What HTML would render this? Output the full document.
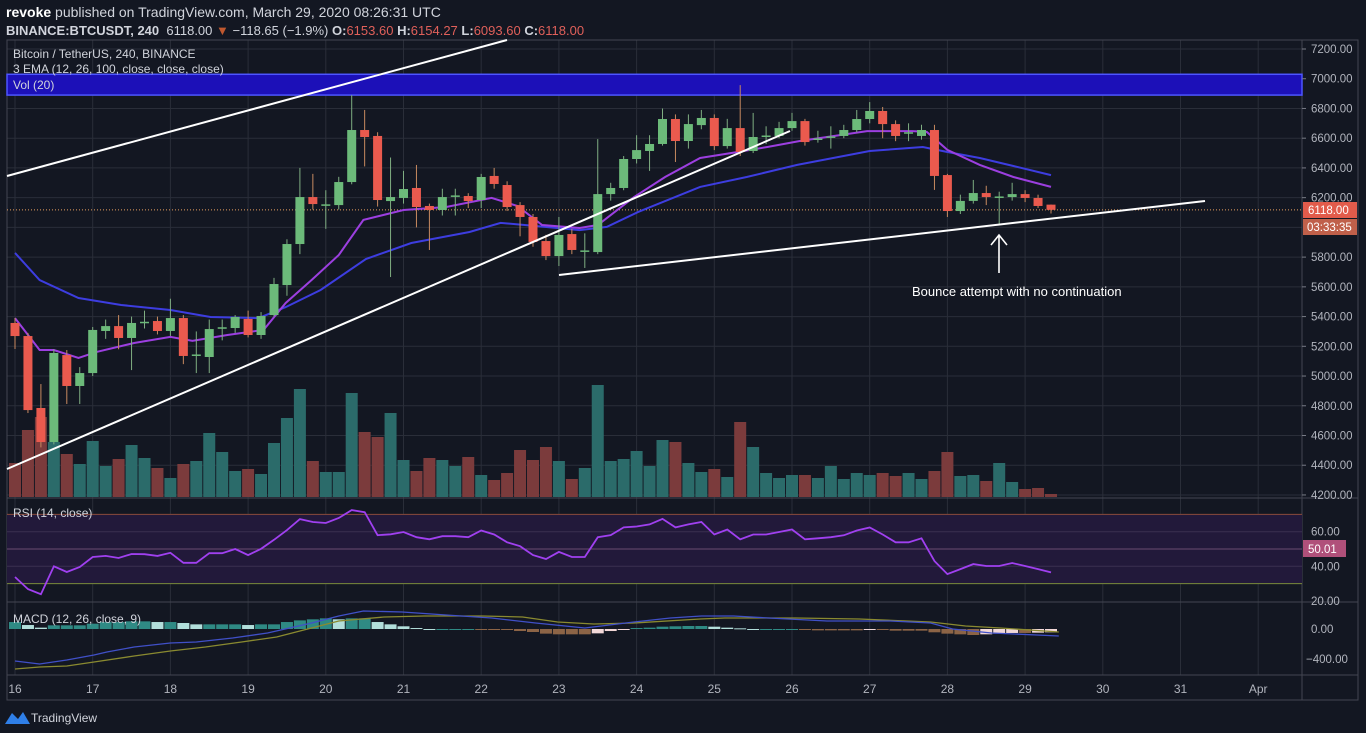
<!DOCTYPE html>
<html><head><meta charset="utf-8"><style>
html,body{margin:0;padding:0;background:#131722;width:1366px;height:733px;overflow:hidden;font-family:"Liberation Sans","DejaVu Sans",sans-serif}
#hdr1{position:absolute;left:6px;top:4px;font-size:14px;color:#d1d4dc}
#hdr2{position:absolute;left:6px;top:23px;font-size:13px;color:#d1d4dc}
svg{position:absolute;left:0;top:0}
</style></head><body>
<div id="hdr1"><b style="color:#fff">revoke</b> published on TradingView.com, March 29, 2020 08:26:31 UTC</div>
<div id="hdr2"><b>BINANCE:BTCUSDT, 240</b>&nbsp; 6118.00 <span style="color:#c0582f">▼</span> −118.65 (−1.9%) <b>O:</b><span style="color:#e0605a">6153.60</span> <b>H:</b><span style="color:#e0605a">6154.27</span> <b>L:</b><span style="color:#e0605a">6093.60</span> <b>C:</b><span style="color:#e0605a">6118.00</span></div>
<svg id="chart" width="1366" height="733"></svg>
<script>
const OPEN=[5357,5269,4785,4556,5141,4933,5020,5303,5336,5256,5360,5370,5303,5390,5141,5128,5323,5323,5384,5276,5410,5612,5888,6204,6150,6150,6305,6655,6615,6177,6198,6265,6144,6117,6211,6211,6184,6346,6285,6150,6070,5908,5807,5955,5841,5834,6224,6265,6460,6514,6561,6729,6581,6688,6736,6547,6668,6514,6615,6615,6668,6715,6594,6608,6615,6655,6729,6783,6695,6635,6615,6655,6352,6110,6178,6231,6204,6204,6224,6198,6153];
const CLOSE=[5269,4771,4556,5155,4933,5020,5310,5336,5256,5357,5365,5303,5390,5135,5145,5316,5328,5397,5276,5404,5619,5888,6204,6157,6155,6305,6655,6608,6184,6204,6258,6137,6117,6204,6215,6177,6339,6292,6137,6070,5902,5807,5949,5848,5845,6224,6265,6460,6520,6561,6729,6581,6695,6736,6547,6668,6507,6608,6618,6668,6715,6574,6598,6612,6655,6729,6783,6695,6615,6640,6655,6346,6110,6178,6231,6204,6208,6224,6198,6144,6118];
const HIGH=[5390,5290,4946,5180,5175,5060,5330,5380,5410,5400,5440,5400,5520,5410,5300,5380,5380,5410,5440,5430,5660,5920,6400,6360,6250,6340,6890,6790,6640,6470,6380,6420,6160,6260,6260,6230,6360,6400,6310,6170,6090,5950,6070,5990,5960,6594,6300,6480,6620,6620,6800,6760,6760,6790,6760,6730,6957,6770,6680,6710,6770,6730,6650,6680,6690,6790,6843,6810,6720,6700,6690,6690,6360,6220,6319,6280,6240,6300,6250,6220,6154];
const LOW=[5182,4751,4520,4540,4812,4812,5000,5250,5180,5040,5320,5280,5270,5080,5020,5020,5240,5290,5260,5250,5400,5540,5820,6120,5990,6120,6290,6410,6140,5666,6160,6000,5848,6080,6080,6130,6130,6260,6110,5940,5870,5780,5740,5820,5727,5820,6180,6250,6430,6380,6550,6440,6530,6660,6520,6530,6480,6500,6560,6600,6650,6550,6570,6530,6600,6640,6700,6600,6580,6580,6590,6252,6070,6090,6160,6150,6016,6180,6170,6130,6093];
const VOLUME=[34,67,80,55,43,33,56,31,38,52,39,29,19,33,36,64,45,26,28,23,54,79,108,36,25,25,104,65,60,84,37,26,39,37,31,40,22,17,24,47,37,50,36,18,29,112,36,38,46,31,57,55,34,25,28,20,75,50,24,19,22,22,19,31,18,24,22,24,21,24,18,26,45,21,22,16,34,15,8,9,3];
const EMA12_I=[0,1.9,3,4.9,6.3,9.2,12,13.7,16.4,19.2,20.9,22.9,25,26.9,30,33.3,36.8,38.8,40.7,43.6,45,47.8,50.2,52.9,55.8,58.1,60.6,65.8,69.3,70.4,72,74.5,77.1,80];
const EMA12_V=[5390,5175,5175,5121,5162,5222,5263,5236,5276,5310,5491,5646,5814,6050,6117,6137,6198,6144,6016,5996,6016,6204,6339,6467,6507,6541,6581,6648,6648,6642,6521,6420,6339,6272];
const EMA26_I=[0,1.9,4.9,8.2,12,15.1,18.8,20.9,23.6,27.1,30.6,35.1,37.5,40.2,43.6,45.7,48.1,52.9,56.5,60.4,66,70.1,72,74.5,77.1,80];
const EMA26_V=[5828,5646,5525,5478,5444,5397,5390,5464,5579,5787,5895,5969,6030,6009,5982,6003,6103,6272,6339,6420,6514,6541,6507,6467,6413,6352];
const RSI=[33.8,26.8,23.9,40,36.7,39.6,45.4,46,44.8,47.1,47,46,47.8,42,42,47.6,47.6,50,46.5,50.1,55.3,60.9,67.3,65.6,65,67.9,72.5,71.3,58,58.5,59.8,56.8,55.6,57.4,57.4,56.8,60.7,58.4,53.9,51.6,46.5,44.2,48.3,45.4,45.4,56.8,58,62.5,63,64.2,67.4,62.5,64.2,65.6,58.4,61.3,55.6,58.4,58.4,59.8,61.3,55.6,56.2,56.8,57.9,60.7,62.4,58.4,53.9,53.9,56.2,43,35.5,38.4,41.3,40.2,40.2,41.9,40.2,38.4,36.5];
const MACD_I=[0,1.9,4,6.1,7.1,9.2,12,14,16.8,19.5,22.9,25,26.9,29.9,33.3,36.8,40.2,44,47.8,50.6,53,55.5,58.2,62.7,67.6,70.7,72.4,75.4,78.9,80.6];
const MACD_V=[-427,-467,-413,-347,-307,-240,-187,-173,-120,-53,80,173,240,227,187,147,80,13,93,147,173,173,147,107,107,80,0,-53,-80,-93];
const SIG_I=[0,1.9,4,6.1,9.2,12,14.7,17.5,20.2,22.9,25,28.5,31.6,36.1,39.2,41.9,44.7,47.8,52.9,54.8,60.3,65.2,70.7,73.4,76.1,80.6];
const SIG_V=[-533,-507,-493,-440,-360,-293,-240,-173,-107,13,107,160,173,173,160,93,67,80,133,147,147,133,93,40,13,-40];
const HIST=[93,53,18,49,49,49,71,93,93,102,102,93,93,80,62,62,62,62,53,62,62,93,115,129,142,129,142,142,93,62,36,13,0,0,0,0,-9,-9,-9,-27,-40,-62,-71,-71,-71,-58,-27,-4,13,18,31,36,40,40,31,18,9,0,0,0,0,-9,-18,-18,-18,-18,-9,-13,-22,-22,-22,-44,-62,-71,-80,-71,-62,-53,-53,-49,-44];
const PRICE_TICKS=[7200,7000,6800,6600,6400,6200,5800,5600,5400,5200,5000,4800,4600,4400,4200];
const DAY_LABELS=['16','17','18','19','20','21','22','23','24','25','26','27','28','29','30','31','Apr'];
const RSI_TICKS=[60,40,20];
const MACD_TICKS=[0,-400];

const X0=15, DAYW=77.7, CW=DAYW/6;
const xi=i=>X0+i*CW;
const xd=d=>X0+d*DAYW;
const yp=p=>49+(7200-p)/200*29.73;
const yr=v=>549-(v-50)*1.73;
const ym=v=>629-v*0.075;
const yv=v=>497-v;
const NS='http://www.w3.org/2000/svg';
const svg=document.getElementById('chart');
function mk(tag,at,parent){const e=document.createElementNS(NS,tag);for(const k in at)e.setAttribute(k,at[k]);(parent||svg).appendChild(e);return e;}
const L=7,R=1302;
// grid
const grid=mk('g',{});


PRICE_TICKS.forEach(p=>mk('line',{x1:L,x2:R,y1:yp(p),y2:yp(p),stroke:'#2a2e39'},grid));
[6000].forEach(p=>mk('line',{x1:L,x2:R,y1:yp(p),y2:yp(p),stroke:'#2a2e39'},grid));
DAY_LABELS.forEach((d,k)=>mk('line',{x1:xd(k),x2:xd(k),y1:40,y2:675,stroke:'#2a2e39'},grid));
// panel frame
mk('rect',{x:L,y:40,width:1351,height:660,fill:'none',stroke:'#434651'});
mk('line',{x1:R,x2:R,y1:40,y2:700,stroke:'#434651'});
mk('line',{x1:L,x2:1358,y1:498,y2:498,stroke:'#434651'});
mk('line',{x1:L,x2:1358,y1:602,y2:602,stroke:'#434651'});
mk('line',{x1:L,x2:1358,y1:675,y2:675,stroke:'#434651'});
// blue zone
const zone=mk('rect',{x:L,y:yp(7030),width:R-L,height:yp(6890)-yp(7030),fill:'#1c10b8',stroke:'#4d55ff','stroke-width':1.5});


// volume
VOLUME.forEach((v,i)=>{const up=CLOSE[i]>=OPEN[i];const r=mk('rect',{x:xi(i)-6,y:yv(v),width:12,height:v,fill:up?'#2b6b6a':'#7b3b3c'});

});
// price line
mk('line',{x1:L,x2:R,y1:yp(6118),y2:yp(6118),stroke:'#e8a060','stroke-dasharray':'1 2'});
// ema lines
function pl(I,V,fx,fy,col,name,w){const pts=I.map((k,j)=>fx(k).toFixed(1)+','+fy(V[j]).toFixed(1)).join(' ');const e=mk('polyline',{points:pts,fill:'none',stroke:col,'stroke-width':w||2});

return e;}
pl(EMA26_I,EMA26_V,xi,yp,'#3d3de0','ema-26-line');
pl(EMA12_I,EMA12_V,xi,yp,'#9c3fe0','ema-12-line');
// candles
OPEN.forEach((o,i)=>{const c=CLOSE[i];const up=c>=o;const col=up?'#6cba7a':'#ea5a4e';const g=mk('g',{});


mk('line',{x1:xi(i),x2:xi(i),y1:yp(HIGH[i]),y2:yp(LOW[i]),stroke:up?'#7fae82':'#c88a60','stroke-width':1},g);
const t=yp(Math.max(o,c)),b=yp(Math.min(o,c));mk('rect',{x:xi(i)-4.5,y:t,width:9,height:Math.max(1.5,b-t),fill:col},g);});
// trend lines
[[7,176,507,40,'upper-channel-line'],[7,469,790,131,'lower-channel-line'],[559,275,1205,201,'support-trendline']].forEach(a=>{const l=mk('line',{x1:a[0],y1:a[1],x2:a[2],y2:a[3],stroke:'#fff','stroke-width':2});

});
const arr=mk('path',{d:'M999 273 L999 236 M991 245 L999 235 L1007 245',stroke:'#fff','stroke-width':1.6,fill:'none'});


const note=mk('text',{x:912,y:296,fill:'#fff','font-size':13});note.textContent='Bounce attempt with no continuation';


// legend texts
[['Bitcoin / TetherUS, 240, BINANCE',58,'chart-title'],['3 EMA (12, 26, 100, close, close, close)',73,'ema-legend'],['Vol (20)',89,'volume-legend']].forEach(a=>{const t=mk('text',{x:13,y:a[1],fill:'#d1d4dc','font-size':12});t.textContent=a[0];

});
// price axis
PRICE_TICKS.forEach(p=>{mk('line',{x1:R,x2:R+4,y1:yp(p),y2:yp(p),stroke:'#787b86'});const t=mk('text',{x:1311,y:yp(p)+4,fill:'#b2b5be','font-size':11.5});t.textContent=p.toFixed(2);

});
mk('rect',{x:1303,y:202,width:54,height:16,fill:'#e25b4b'});
const lp=mk('text',{x:1308,y:214,fill:'#fff','font-size':11.5});lp.textContent='6118.00';


mk('rect',{x:1303,y:219,width:54,height:16,fill:'#c0604a'});
const cd=mk('text',{x:1307,y:231,fill:'#fff','font-size':11.5});cd.textContent='03:33:35';


// RSI
mk('rect',{x:L,y:yr(70),width:R-L,height:yr(30)-yr(70),fill:'#22193a'});
mk('line',{x1:L,x2:R,y1:yr(70),y2:yr(70),stroke:'#8a4a3a'});
mk('line',{x1:L,x2:R,y1:yr(30),y2:yr(30),stroke:'#7a8a3a'});
mk('line',{x1:L,x2:R,y1:yr(50),y2:yr(50),stroke:'#6a4a70'});
[60,40].forEach(v=>mk('line',{x1:L,x2:R,y1:yr(v),y2:yr(v),stroke:'#3a3050'}));
pl(RSI.map((v,i)=>i),RSI,xi,yr,'#a040f0','rsi-line',1.8);
const rl=mk('text',{x:13,y:517,fill:'#d1d4dc','font-size':12});rl.textContent='RSI (14, close)';


RSI_TICKS.forEach(v=>{const t=mk('text',{x:1311,y:yr(v)+4,fill:'#b2b5be','font-size':11.5});t.textContent=v.toFixed(2);

});
mk('rect',{x:1303,y:540,width:43,height:17,fill:'#b0507a'});
const rv=mk('text',{x:1308,y:553,fill:'#fff','font-size':11.5});rv.textContent='50.01';


// MACD
HIST.forEach((v,i)=>{const prev=i?HIST[i-1]:v;let col;if(v>=0)col=v>=prev?'#2f8a84':'#b2dfdb';else col=v<=prev?'#8c6446':'#f2d8d8';
const y1=ym(Math.max(v,0)),y2=ym(Math.min(v,0));const r=mk('rect',{x:xi(i)-6,y:y1,width:12,height:Math.max(1,y2-y1),fill:col});

});
pl(SIG_I,SIG_V,xi,ym,'#8a8a30','macd-signal-line',1.3);
pl(MACD_I,MACD_V,xi,ym,'#4050c8','macd-line',1.3);
const ml=mk('text',{x:13,y:623,fill:'#d1d4dc','font-size':12});ml.textContent='MACD (12, 26, close, 9)';


MACD_TICKS.forEach(v=>{const t=mk('text',{x:v<0?1306:1311,y:ym(v)+4,fill:'#b2b5be','font-size':11.5});t.textContent=(v<0?'−'+Math.abs(v):v).toString()+'.00';

});
// x axis
DAY_LABELS.forEach((d,k)=>{const t=mk('text',{x:xd(k),y:693,fill:'#b2b5be','font-size':12,'text-anchor':'middle'});t.textContent=d;

});
// footer logo
const lg=mk('g',{});


mk('path',{d:'M5 724 L12 713 L18 719 L23 712 L30 724 Z',fill:'#2f7fe8'},lg);
const lt=mk('text',{x:31,y:722,fill:'#d1d4dc','font-size':12},lg);lt.textContent='TradingView';
</script>
</body></html>
